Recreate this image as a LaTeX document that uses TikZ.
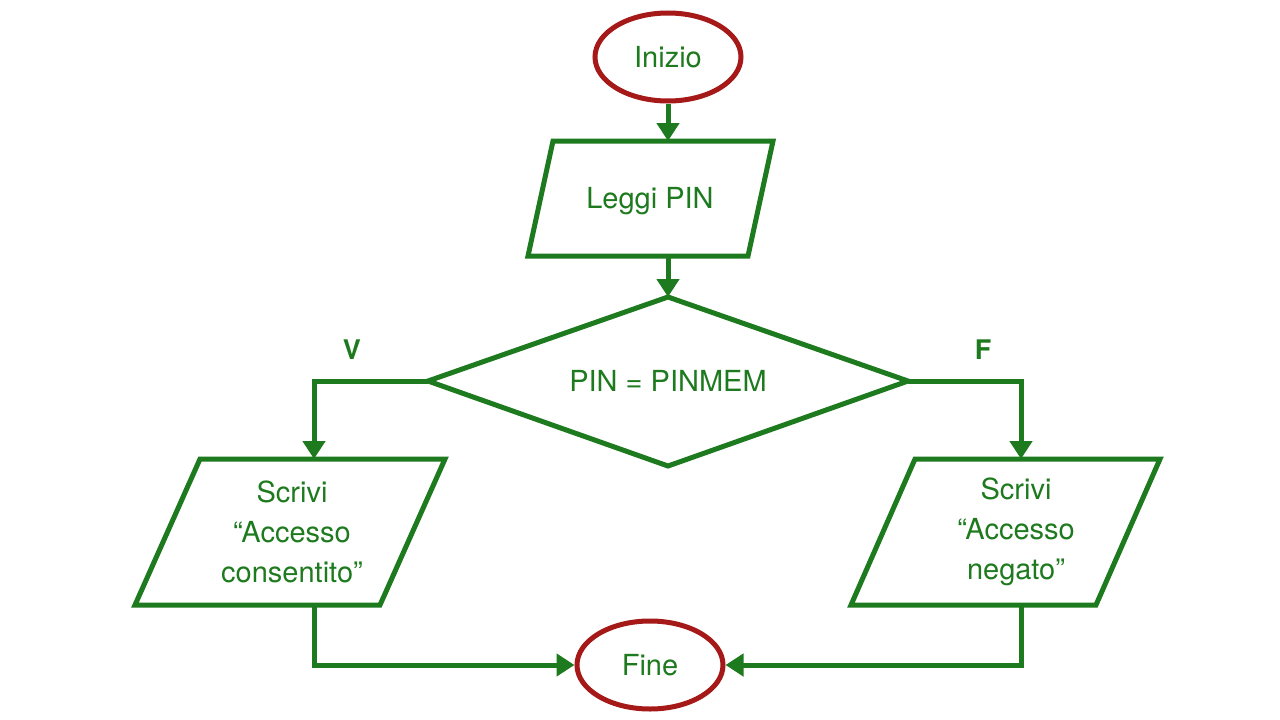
\documentclass[tikz,border=0pt]{standalone}
\usepackage{fontspec}
\setmainfont{TeX Gyre Heros}
\usetikzlibrary{shapes.geometric,arrows.meta}
\definecolor{fg}{RGB}{30,122,30}
\definecolor{fr}{RGB}{165,25,25}
\begin{document}
\begin{tikzpicture}[x=1pt,y=-1pt,
  txt/.style={text=fg,font=\fontsize{29}{40}\selectfont,align=center},
  term/.style={ellipse,draw=fr,line width=5pt,minimum width=146pt,minimum height=88pt,txt},
  shp/.style={draw=fg,line width=5pt,line join=miter},
  con/.style={draw=fg,line width=5pt,-{Triangle[length=18pt,width=22pt]}},
  lin/.style={draw=fg,line width=5pt}]
\useasboundingbox[fill=white] (0,0) rectangle (1280,720);
\node[term] (start) at (668,57) {Inizio};
\node[term] (end) at (650,665) {Fine};
% Leggi PIN
\draw[shp] (553,141) -- (773,141) -- (748,256) -- (528,256) -- cycle;
\node[txt] (read) at (650,201) {Leggi PIN};
\coordinate (readT) at (668,141);
\coordinate (readB) at (668,256);
% diamond
\draw[shp] (668,297) -- (908,381) -- (668,466) -- (428,381) -- cycle;
\node[txt] (dec) at (668,381) {PIN = PINMEM};
\coordinate (decT) at (668,297);
\coordinate (decL) at (428,381);
\coordinate (decR) at (908,381);
% left
\draw[shp] (200,459) -- (445,459) -- (380,605) -- (135,605) -- cycle;
\node[txt] (ok) at (292,532) {Scrivi\\``Accesso\\consentito''};
\coordinate (okT) at (314,459);
\coordinate (okB) at (314,605);
% right
\draw[shp] (915,459) -- (1160,459) -- (1096,605) -- (851,605) -- cycle;
\node[txt] (no) at (1016,532) {Scrivi\\``Accesso\\negato''};
\coordinate (noT) at (1021,459);
\coordinate (noB) at (1021,605);
% connectors
\draw[con] (start) -- (readT);
\draw[con] (readB) -- (decT);
\draw[con] (decL) -| (okT);
\draw[con] (decR) -| (noT);
\draw[con] (okB) |- (end);
\draw[con] (noB) |- (end);
\node[txt,font=\bfseries\fontsize{27}{30}\selectfont] (v) at (352,350) {V};
\node[txt,font=\bfseries\fontsize{27}{30}\selectfont] (f) at (983,350) {F};
\end{tikzpicture}
\end{document}
